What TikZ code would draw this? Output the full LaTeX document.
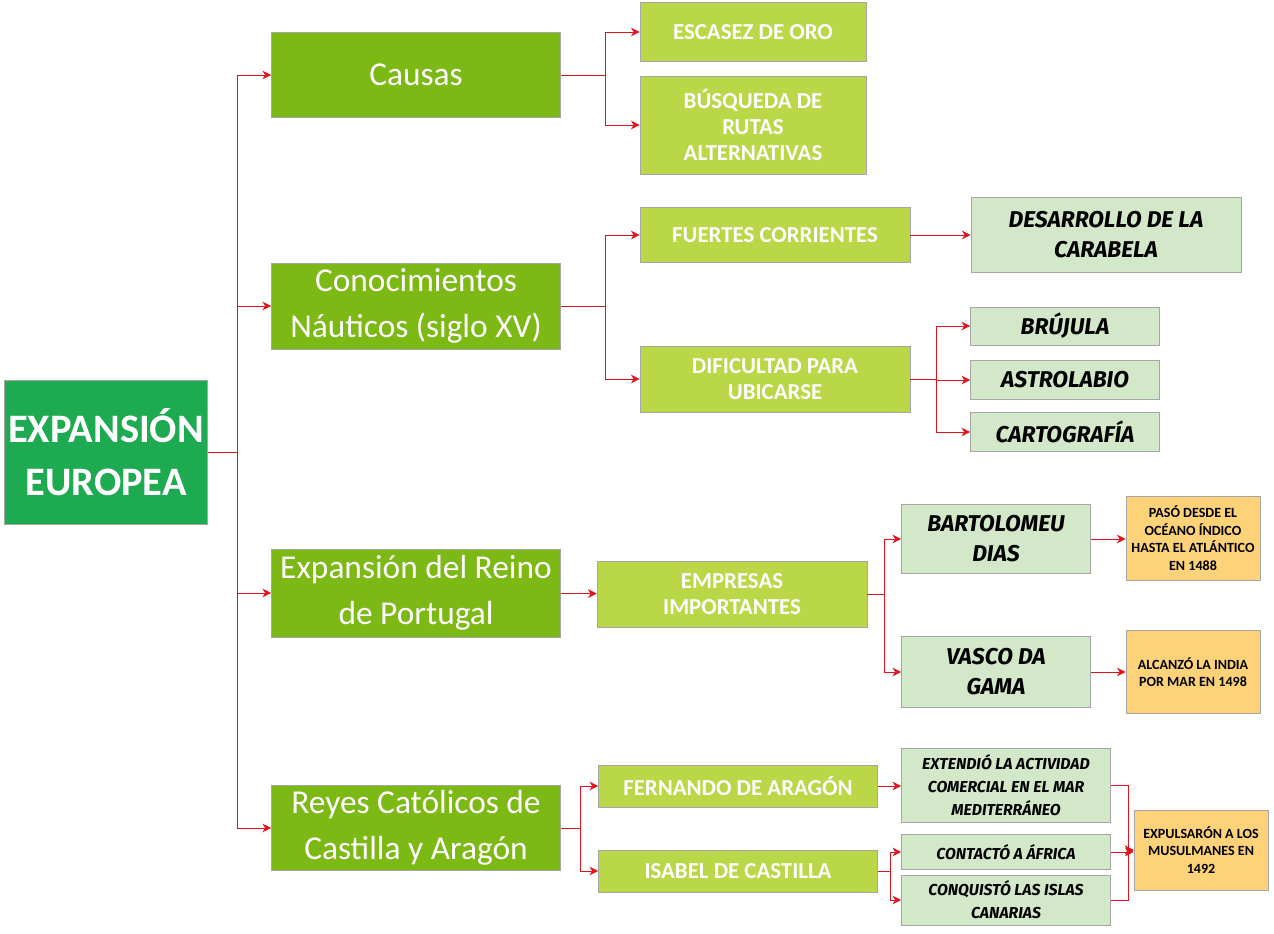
\documentclass[tikz,border=0pt]{standalone}
\usepackage{fontspec}
\setmainfont{Fira Sans}
\newfontfamily\capfont{Carlito}
\usetikzlibrary{arrows.meta}
\definecolor{rootGreen}{RGB}{30,170,80}
\definecolor{midGreen}{RGB}{125,185,20}
\definecolor{litGreen}{RGB}{185,215,70}
\definecolor{paleGreen}{RGB}{210,232,200}
\definecolor{paleOrange}{RGB}{253,210,120}
\definecolor{linkRed}{RGB}{225,20,30}
\tikzset{
  box/.style={draw=gray!70, align=center, inner sep=2pt},
  rootbox/.style={box, fill=rootGreen, text=white, font=\capfont\fontsize{23}{30}\selectfont\bfseries},
  topic/.style={box, fill=midGreen, text=white, font=\capfont\fontsize{19}{26}\selectfont},
  sub/.style={box, fill=litGreen, text=white, font=\capfont\fontsize{13}{15}\selectfont\bfseries},
  leaf/.style={box, fill=paleGreen, text=black, font=\fontsize{13}{17}\selectfont\bfseries\itshape},
  small/.style={leaf, font=\fontsize{9}{13}\selectfont\bfseries\itshape},
  note/.style={box, fill=paleOrange, text=black, font=\capfont\fontsize{8}{10}\selectfont\bfseries},
  link/.style={draw=linkRed, -{Stealth[length=5pt,width=5pt]}},
}
\newcommand{\bx}[6]{\node[#1, minimum width=#4*0.02cm, minimum height=#5*0.02cm] (#2) at (#3) {#6};}
\begin{document}
\begin{tikzpicture}[x=0.02cm,y=-0.02cm]
  \useasboundingbox (0,0) rectangle (1274,933);
  % boxes
  \bx{rootbox}{root}{106,452}{203}{144}{EXPANSIÓN\\EUROPEA}
  \bx{topic}{causas}{416,75}{289}{85}{Causas}
  \bx{topic}{nauticos}{416,306}{289}{86}{Conocimientos\\Náuticos (siglo XV)}
  \bx{topic}{portugal}{416,593}{289}{88}{Expansión del Reino\\de Portugal}
  \bx{topic}{reyes}{416,828}{289}{85}{Reyes Católicos de\\Castilla y Aragón}
  \bx{sub}{oro}{753,32}{226}{59}{ESCASEZ DE ORO}
  \bx{sub}{rutas}{753,125}{226}{98}{BÚSQUEDA DE\\RUTAS\\ALTERNATIVAS}
  \bx{sub}{fuertes}{775,235}{270}{55}{FUERTES CORRIENTES}
  \bx{sub}{ubicarse}{775,379}{270}{66}{DIFICULTAD PARA\\UBICARSE}
  \bx{leaf}{carabela}{1106,235}{270}{75}{DESARROLLO DE LA\\CARABELA}
  \bx{leaf}{brujula}{1065,326}{189}{38}{BRÚJULA}
  \bx{leaf}{astrolabio}{1065,380}{189}{39}{ASTROLABIO}
  \bx{leaf}{cartografia}{1065,432}{189}{39}{CARTOGRAFÍA}
  \bx{sub}{empresas}{732,594}{270}{66}{EMPRESAS\\IMPORTANTES}
  \bx{leaf}{dias}{996,539}{189}{69}{BARTOLOMEU\\DIAS}
  \bx{leaf}{gama}{996,672}{189}{71}{VASCO DA\\GAMA}
  \bx{note}{paso}{1193,538}{134}{84}{PASÓ DESDE EL\\OCÉANO ÍNDICO\\HASTA EL ATLÁNTICO\\EN 1488}
  \bx{note}{india}{1193,672}{134}{83}{ALCANZÓ LA INDIA\\POR MAR EN 1498}
  \bx{sub}{fernando}{738,786}{279}{42}{FERNANDO DE ARAGÓN}
  \bx{sub}{isabel}{738,871}{279}{42}{ISABEL DE CASTILLA}
  \bx{small}{comercio}{1006,785}{209}{74}{EXTENDIÓ LA ACTIVIDAD\\COMERCIAL EN EL MAR\\MEDITERRÁNEO}
  \bx{small}{africa}{1006,852}{209}{35}{CONTACTÓ A ÁFRICA}
  \bx{small}{canarias}{1006,900}{209}{50}{CONQUISTÓ LAS ISLAS\\CANARIAS}
  \bx{note}{musulmanes}{1201,850}{134}{80}{EXPULSARÓN A LOS\\MUSULMANES EN\\1492}
  % connectors
  \foreach \t in {causas,nauticos,portugal,reyes}
    \draw[link] (root.east) -- ++(29,0) |- (\t.west);
  \foreach \t in {oro,rutas}
    \draw[link] (causas.east) -- ++(44,0) |- (\t.west);
  \foreach \t in {fuertes,ubicarse}
    \draw[link] (nauticos.east) -- ++(44,0) |- (\t.west);
  \draw[link] (fuertes) -- (carabela);
  \foreach \t in {brujula,astrolabio,cartografia}
    \draw[link] (ubicarse.east) -- ++(26,0) |- (\t.west);
  \draw[link] (portugal) -- (empresas);
  \foreach \t in {dias,gama}
    \draw[link] (empresas.east) -- ++(17,0) |- (\t.west);
  \draw[link] (dias) -- (dias -| paso.west);
  \draw[link] (gama) -- (india);
  \foreach \t in {fernando,isabel}
    \draw[link] (reyes.east) -- ++(19,0) |- (\t.west);
  \draw[link] (fernando) -- (comercio.west |- fernando);
  \foreach \t in {africa,canarias}
    \draw[link] (isabel.east) -- ++(12,0) |- (\t.west);
  \foreach \t in {comercio,canarias}
    \draw[link] (\t.east) -- ++(17,0) |- (musulmanes.west);
  \draw[link] (africa) -- (africa -| musulmanes.west);
\end{tikzpicture}
\end{document}
